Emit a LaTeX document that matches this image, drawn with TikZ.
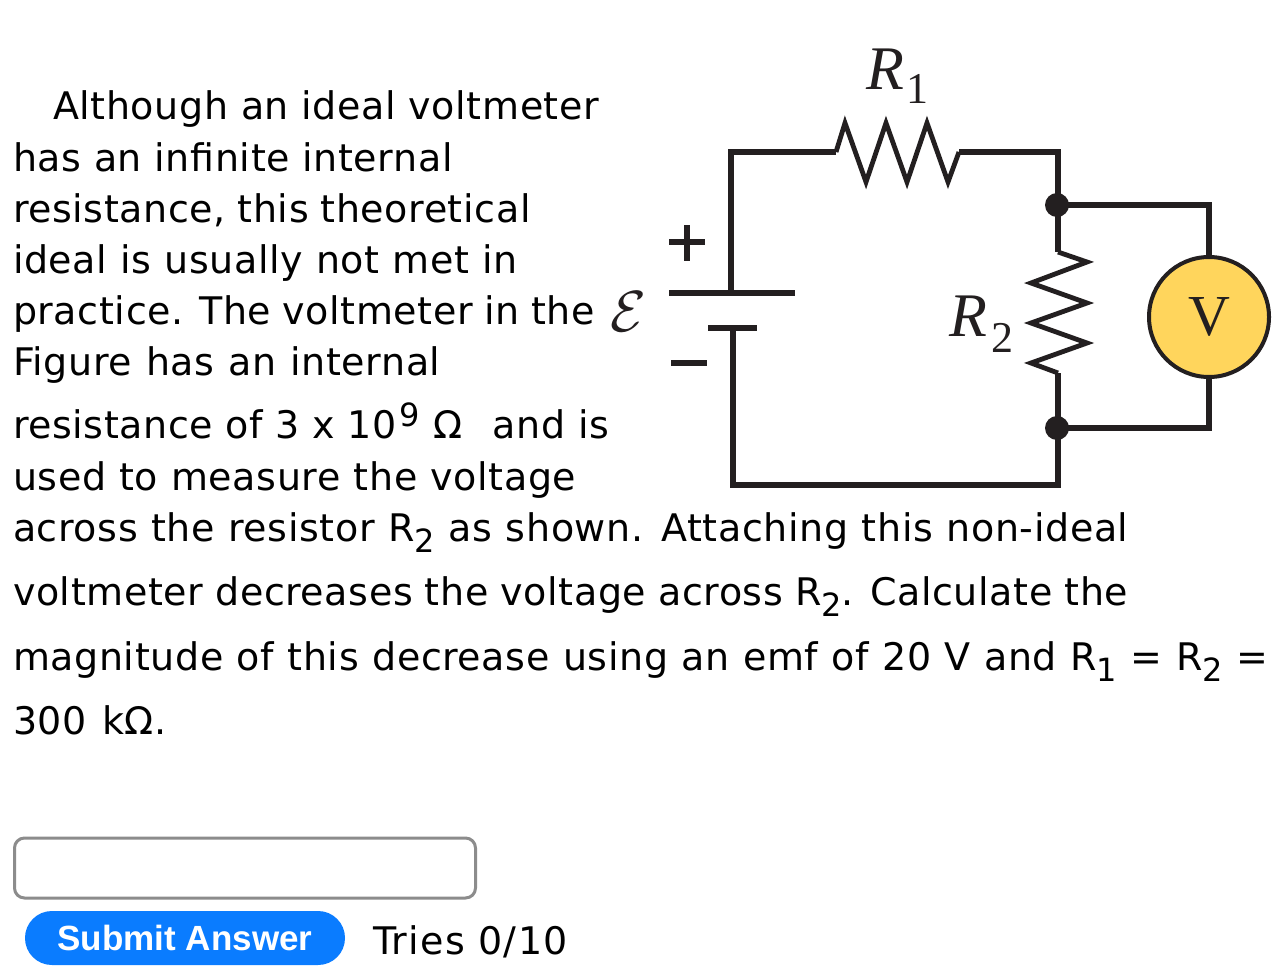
\documentclass[tikz,border=0pt]{standalone}
\usepackage{fontspec}
\setmainfont{DejaVu Sans}
\newfontfamily\serifcirc{Liberation Serif}
\newfontfamily\spaced[LetterSpace=1.6]{DejaVu Sans}
\newfontfamily\spacedwide[LetterSpace=3.4]{DejaVu Sans}
\newfontfamily\btnfont{Liberation Sans}
\newcommand{\subx}[1]{\raisebox{-11pt}{\fontsize{32}{32}\selectfont #1}}
\newcommand{\supx}[1]{\raisebox{12pt}{\fontsize{32}{32}\selectfont #1}}
\newcommand{\ws}[1]{\spaceskip=#1pt\relax}
\definecolor{ink}{HTML}{231F20}
\definecolor{vyellow}{HTML}{FFD55C}
\definecolor{btn}{HTML}{0A7CFF}
\definecolor{boxgrey}{HTML}{8C8C8C}
\tikzset{
  txt/.style={anchor=base west,inner sep=0pt,outer sep=0pt,font=\spaced\fontsize{38}{40}\selectfont,text=black},
  wire/.style={draw=ink,line width=5.4pt,line join=miter,line cap=butt},
  zig/.style={draw=ink,line width=4.8pt,line join=miter},
  plate/.style={draw=ink,line width=5.4pt},
  dotnode/.style={circle,fill=ink,minimum size=24pt,inner sep=0pt},
  meter/.style={circle,draw=ink,line width=4pt,fill=vyellow,minimum size=120pt,inner sep=0pt,font=\serifcirc\fontsize{58}{58}\selectfont,text=ink},
  clabel/.style={anchor=base west,inner sep=0pt,outer sep=0pt,font=\serifcirc\fontsize{62}{62}\selectfont,text=ink},
  csub/.style={anchor=base west,inner sep=0pt,outer sep=0pt,font=\serifcirc\fontsize{44}{44}\selectfont,text=ink},
}
\begin{document}
\begin{tikzpicture}[x=1pt,y=-1pt]
\useasboundingbox[fill=white] (0,0) rectangle (1284,979);
% text
\node[txt] (l1) at (53,120) {Although an ideal voltmeter};
\node[txt] (l2) at (13,171) {has an infinite internal};
\node[txt] (l3) at (13,222) {\ws{11.7}resistance, this theoretical};
\node[txt] (l4) at (13,273) {\ws{13.1}ideal is usually not met in};
\node[txt] (l5) at (13,324) {\ws{11.5}practice. The voltmeter in the};
\node[txt] (l6) at (13,375) {\ws{14}Figure has an internal};
\node[txt] (l7) at (13,438) {resistance of 3 x 10\hspace{3pt}\supx{9} \hspace{1pt}\char"03A9\hspace{17pt} and is};
\node[txt] (l8) at (13,490) {\ws{13.2}used to measure the voltage};
\node[txt] (l9) at (13,541) {\ws{13.55}across the resistor R\subx{2} as shown. Attaching this non-ideal};
\node[txt] (l10) at (13,605) {\ws{12}voltmeter decreases the voltage across R\subx{2}. Calculate the};
\node[txt] (l11) at (13,670) {\ws{13.5}magnitude of this decrease using an emf of 20 V and R\subx{1} = R\subx{2} =};
\node[txt] (l12) at (13,734) {\ws{15.5}300 k\char"03A9.};
% circuit points
\coordinate (tl) at (731,152);
\coordinate (r1a) at (836,152);
\coordinate (r1b) at (959,152);
\coordinate (tr) at (1058,152);
\coordinate (r2a) at (1058,252);
\coordinate (r2b) at (1058,373);
\coordinate (br) at (1058,485);
\coordinate (bl) at (733,485);
\coordinate (vt) at (1209,205);
\coordinate (vb) at (1209,428);
\coordinate (bp) at (731,293);
\coordinate (bm) at (733,328);
\node[dotnode] (j1) at (1057,205) {};
\node[dotnode] (j2) at (1057,428) {};
\node[meter] (vm) at (1209,317) {V};
% wires
\draw[wire] (bp) -- (tl) -- (r1a);
\draw[wire] (r1b) -- (tr) -- (r2a);
\draw[wire] (r2b) -- (br) -- (bl) -- (bm);
\draw[wire] (j1.center) -- (vt) -- (vm.north);
\draw[wire] (j2.center) -- (vb) -- (vm.south);
% resistors
\draw[zig] (r1a) -- (845,123) -- (866,182) -- (886,123) -- (907,182) -- (927,123) -- (948,182) -- (r1b);
\draw[zig] (r2a) -- (1087,262) -- (1031,283) -- (1087,303) -- (1031,323) -- (1087,343) -- (1031,363) -- (r2b);
% battery
\draw[plate] (669,293) -- (795,293);
\draw[plate] (708,328) -- (757,328);
\draw[plate] (669,242) -- (705,242);
\draw[plate] (687,225) -- (687,261);
\draw[plate] (671,363) -- (707,363);
% labels
\node[anchor=center,inner sep=0pt,text=ink] (emf) at (628,312) {\scalebox{5.8}{$\mathcal{E}$}};
\node[clabel] (r1t) at (866,90) {\textit{R}};
\node[csub] (r1s) at (906,104) {1};
\node[clabel] (r2t) at (949,336) {\textit{R}};
\node[csub] (r2s) at (991,352) {2};
% form
\draw[draw=boxgrey,line width=3pt,fill=white,rounded corners=10pt] (14.5,838) rectangle (475.5,898);
\node[fill=btn,rounded corners=26.9pt,minimum width=320pt,minimum height=54pt,inner sep=0pt] (btnbox) at (185,938) {};
\node[anchor=center,inner sep=0pt,text=white,font=\btnfont\bfseries\fontsize{35}{35}\selectfont] (btnt) at (btnbox.center) {Submit Answer};
\node[txt,font=\spacedwide\fontsize{38}{40}\selectfont] (tries) at (373,954) {Tries 0/10};
\end{tikzpicture}
\end{document}
